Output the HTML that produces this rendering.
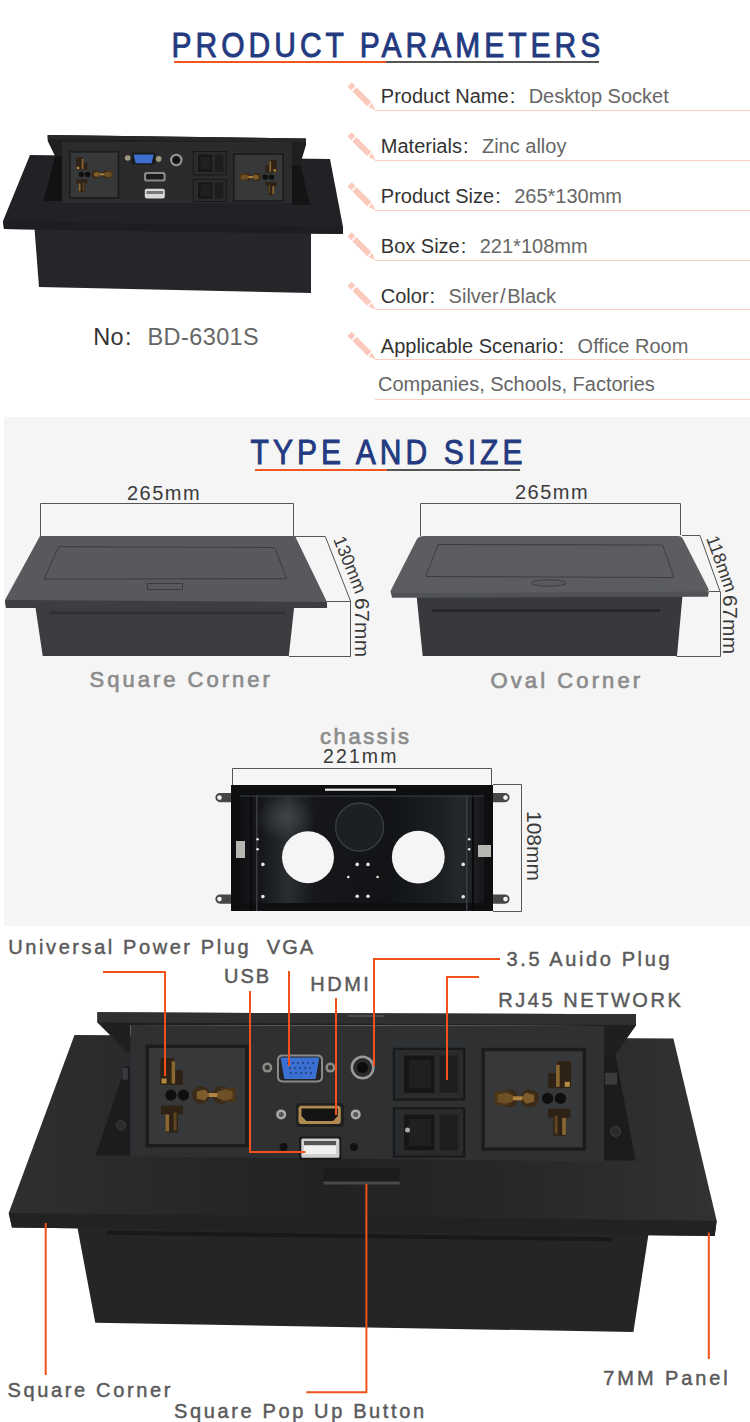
<!DOCTYPE html>
<html><head><meta charset="utf-8">
<style>
*{margin:0;padding:0;box-sizing:border-box}
html,body{width:750px;height:1422px;overflow:hidden;background:#fff}
body{position:relative;font-family:"Liberation Sans",sans-serif}
.t{position:absolute;white-space:nowrap;line-height:1}
.ttl{font-size:30px;letter-spacing:4px;color:#233a80;-webkit-text-stroke:0.8px #233a80;transform-origin:0 0;transform:scaleY(1.15)}
.row{font-size:20px;color:#333}
.row .v{color:#666}
.row .c{display:inline-block;width:20px;padding-left:1px}
.lbl{font-size:20px;letter-spacing:2.5px;color:#5a5a5a;-webkit-text-stroke:0.45px #5a5a5a}
.gry{font-size:22px;letter-spacing:2.75px;color:#8c8c8c;-webkit-text-stroke:0.7px #8c8c8c}
.dim{font-size:20px;color:#3a3a3a;letter-spacing:1.5px}
.rot{position:absolute;left:0;top:0;white-space:nowrap;line-height:1;font-size:20px;color:#3a3a3a;transform-origin:0 0}
svg{position:absolute;left:0;top:0}
</style></head><body>
<div style="position:absolute;left:4px;top:417px;width:746px;height:509px;background:#f5f5f5"></div>
<svg width="750" height="1422" viewBox="0 0 750 1422">
<!-- title underlines -->
<rect x="174" y="61" width="212" height="2" fill="#f0561f"/>
<rect x="386" y="61" width="213" height="2" fill="#555"/>
<rect x="255" y="469" width="132" height="2" fill="#f0561f"/>
<rect x="387" y="469" width="133" height="2" fill="#555"/>
<!-- param underlines -->
<g fill="#f9cdc0">
<rect x="375" y="110" width="375" height="1"/>
<rect x="375" y="160" width="375" height="1"/>
<rect x="375" y="210" width="375" height="1"/>
<rect x="375" y="260" width="375" height="1"/>
<rect x="375" y="309" width="375" height="1"/>
<rect x="375" y="359" width="375" height="1"/>
<rect x="375" y="399" width="375" height="1"/>
</g>
<!-- pencils -->

<g transform="translate(375.2,110) rotate(45)" fill="#fbcabd">
<path d="M0,0 L-6.8,-2.7 L-6.8,2.7 Z"/>
<rect x="-29.3" y="-3" width="21" height="6"/>
<rect x="-36.3" y="-3" width="5.4" height="6" rx="0.8"/>
</g>
<g transform="translate(375.2,160) rotate(45)" fill="#fbcabd">
<path d="M0,0 L-6.8,-2.7 L-6.8,2.7 Z"/>
<rect x="-29.3" y="-3" width="21" height="6"/>
<rect x="-36.3" y="-3" width="5.4" height="6" rx="0.8"/>
</g>
<g transform="translate(375.2,210) rotate(45)" fill="#fbcabd">
<path d="M0,0 L-6.8,-2.7 L-6.8,2.7 Z"/>
<rect x="-29.3" y="-3" width="21" height="6"/>
<rect x="-36.3" y="-3" width="5.4" height="6" rx="0.8"/>
</g>
<g transform="translate(375.2,260) rotate(45)" fill="#fbcabd">
<path d="M0,0 L-6.8,-2.7 L-6.8,2.7 Z"/>
<rect x="-29.3" y="-3" width="21" height="6"/>
<rect x="-36.3" y="-3" width="5.4" height="6" rx="0.8"/>
</g>
<g transform="translate(375.2,309.5) rotate(45)" fill="#fbcabd">
<path d="M0,0 L-6.8,-2.7 L-6.8,2.7 Z"/>
<rect x="-29.3" y="-3" width="21" height="6"/>
<rect x="-36.3" y="-3" width="5.4" height="6" rx="0.8"/>
</g>
<g transform="translate(375.2,359.5) rotate(45)" fill="#fbcabd">
<path d="M0,0 L-6.8,-2.7 L-6.8,2.7 Z"/>
<rect x="-29.3" y="-3" width="21" height="6"/>
<rect x="-36.3" y="-3" width="5.4" height="6" rx="0.8"/>
</g>

<!-- TOP PRODUCT -->
<g>
<polygon points="34,222 311,226 311,293 39,287" fill="#26262a"/>
<polygon points="30,155 330,159 343,227 343,234 4,229 3,221" fill="#222226"/>
<polygon points="3,221 343,227 343,234 4,229" fill="#1e1e22"/>
<polygon points="55,156 62,156 62,201 43.5,201" fill="#121212"/>
<polygon points="292,163 300,163 310,205 292,205" fill="#141414"/>
<polygon points="47.7,135 306,138.5 306,145 300,165 292,165 292,143 62,142 62,156 55,156 47.7,141" fill="#1f1f1f"/>
<polygon points="47.7,135 306,138.5 306,142 47.7,139" fill="#282828"/>
<rect x="62" y="142" width="230" height="61" fill="#2b2b2d"/>
<g transform="translate(69,151) scale(0.488,0.463)">
<rect x="0" y="0" width="103" height="103" fill="#1b1c1d"/>
<rect x="3.5" y="3.5" width="96" height="96" fill="#363839"/>
<path d="M14.8,13.5 h14 v12 h8.5 v15 h-22.5 z" fill="#2e2216"/>
<rect x="26" y="17" width="3.5" height="22" fill="#8a6830"/>
<rect x="16" y="34" width="5" height="5" fill="#b48a40"/>
<path d="M15.4,61 h22 v9 h-5 v18 h-12 v-18 h-5 z" fill="#2e2216"/>
<rect x="20" y="70" width="3.5" height="17" fill="#8a6830"/>
<rect x="28" y="68" width="3" height="18" fill="#5e4420"/>
<circle cx="25.3" cy="50.6" r="5.6" fill="#0f0f10"/><circle cx="37.9" cy="50.6" r="5.6" fill="#0f0f10"/>
<circle cx="55.4" cy="50.5" r="9" fill="#3a2a17"/><circle cx="75.7" cy="50.5" r="9" fill="#3a2a17"/>
<rect x="75" y="43.5" width="15" height="14" fill="#4a3519"/>
<path d="M51,47 L59,45 L64,50 L59,56 L51,54 Z" fill="#7d5c2b"/>
<path d="M72,47 L80,45 L87,47 L87,54 L80,56 L72,54 Z" fill="#6e5026"/>
<rect x="63" y="48.5" width="9" height="4" fill="#b08540"/>
</g>
<g transform="translate(284,153.3) scale(-0.496,0.471)">
<rect x="0" y="0" width="103" height="103" fill="#1b1c1d"/>
<rect x="3.5" y="3.5" width="96" height="96" fill="#363839"/>
<path d="M14.8,13.5 h14 v12 h8.5 v15 h-22.5 z" fill="#2e2216"/>
<rect x="26" y="17" width="3.5" height="22" fill="#8a6830"/>
<rect x="16" y="34" width="5" height="5" fill="#b48a40"/>
<path d="M15.4,61 h22 v9 h-5 v18 h-12 v-18 h-5 z" fill="#2e2216"/>
<rect x="20" y="70" width="3.5" height="17" fill="#8a6830"/>
<rect x="28" y="68" width="3" height="18" fill="#5e4420"/>
<circle cx="25.3" cy="50.6" r="5.6" fill="#0f0f10"/><circle cx="37.9" cy="50.6" r="5.6" fill="#0f0f10"/>
<circle cx="55.4" cy="50.5" r="9" fill="#3a2a17"/><circle cx="75.7" cy="50.5" r="9" fill="#3a2a17"/>
<rect x="75" y="43.5" width="15" height="14" fill="#4a3519"/>
<path d="M51,47 L59,45 L64,50 L59,56 L51,54 Z" fill="#7d5c2b"/>
<path d="M72,47 L80,45 L87,47 L87,54 L80,56 L72,54 Z" fill="#6e5026"/>
<rect x="63" y="48.5" width="9" height="4" fill="#b08540"/>
</g>
<g transform="translate(192.8,151) scale(0.468,0.462)">
<rect x="0" y="0" width="72.6" height="52.8" fill="#18191a"/>
<rect x="2.2" y="2.2" width="68.2" height="48.4" fill="#2a2b2c"/>
<rect x="11.4" y="7.8" width="30" height="37.2" fill="#161616"/>
<rect x="16.2" y="12.2" width="22" height="28" fill="#202020"/>
<rect x="46.8" y="7.8" width="18.6" height="37.2" fill="#1e1e1e"/>
</g>
<g transform="translate(192.8,179) scale(0.468,0.436)">
<rect x="0" y="0" width="72.6" height="52.8" fill="#18191a"/>
<rect x="2.2" y="2.2" width="68.2" height="48.4" fill="#2a2b2c"/>
<rect x="11.4" y="7.8" width="30" height="37.2" fill="#161616"/>
<rect x="16.2" y="12.2" width="22" height="28" fill="#202020"/>
<rect x="46.8" y="7.8" width="18.6" height="37.2" fill="#1e1e1e"/>
</g>
<rect x="131.5" y="152.5" width="24" height="12" rx="2" fill="#1a1a1a"/>
<path d="M133.6,154.4 L153.6,154.4 L151.6,163.2 L135.6,163.2 Z" fill="#3c6fd0"/>
<circle cx="127.7" cy="158" r="2.8" fill="#a09880"/>
<circle cx="158.7" cy="158.9" r="2.8" fill="#a09880"/>
<circle cx="176.3" cy="160" r="6.2" fill="#9a9a9a"/><circle cx="176.3" cy="160" r="4.3" fill="#222"/><circle cx="176.3" cy="160" r="2.5" fill="#0a0a0a"/>
<rect x="144" y="172" width="21.6" height="9.6" rx="2.5" fill="#8a8a8a"/>
<rect x="146" y="174" width="17.6" height="5.6" rx="1.5" fill="#1a1a1a"/>
<rect x="144.8" y="188.8" width="20" height="9.6" rx="2" fill="#d8d8d8"/>
<rect x="146.5" y="191" width="16.6" height="3" fill="#777"/>
</g>
<!-- SECTION 2: SQUARE BOX -->
<g>
<polygon points="34.7,602 294.7,602 288.8,656 42.7,656" fill="#3b3c3f"/>
<polygon points="40,536 295,536 327,602 327,608 6,608 5,600" fill="#58595c"/>
<polygon points="5,600 327,602 327,608 6,608" fill="#3d3e41"/>
<polygon points="50,611.5 285,611.5 285,614 50,614" fill="#2e2f32"/>
<polygon points="58.7,546.7 274.7,547.5 286.7,578.7 44,579" fill="#57595c" stroke="#3b3c3f" stroke-width="1"/>
<rect x="147.5" y="583.5" width="35" height="6" fill="none" stroke="#3b3c3f" stroke-width="1"/>
</g>
<g stroke="#555" stroke-width="1" fill="none">
<path d="M40.5,536 V503.5 H293.5 V536"/>
<path d="M295,536.5 H325.3 L350.7,601.5 H327"/>
<path d="M350.5,601.5 V656.5 H289"/>
</g>
<!-- OVAL BOX -->
<g>
<polygon points="416,590 683,590 677,656 422.7,656" fill="#38393d"/>
<path d="M424,536 L678,536 Q681.6,536 683,539 L708,588 Q710,592 705,592.5 L708,596.5 L392,597.5 L395,594 Q389,594 391,590 L417,539 Q419,536 424,536 Z" fill="#5b5d61"/>
<polygon points="391,593 709,591.5 708,596.5 392,597.5" fill="#505256"/>
<polygon points="432,609 660,609 660,612 432,612" fill="#26272a"/>
<polygon points="438,544.5 662.6,545 674,577.5 425.9,576.5" fill="#5b5d61" stroke="#3d3e42" stroke-width="1"/>
<ellipse cx="549" cy="583" rx="17.5" ry="3.3" fill="#57595d" stroke="#3d3e42" stroke-width="1"/>
</g>
<g stroke="#555" stroke-width="1" fill="none">
<path d="M420.5,536 V503.5 H680.5 V535"/>
<path d="M682,535.5 H700 L720,591.5 H709"/>
<path d="M720.5,591.5 V656.5 H676.5"/>
</g>
<!-- CHASSIS -->
<defs>
<linearGradient id="chg" x1="0" y1="0" x2="1" y2="0">
<stop offset="0" stop-color="#0e0f11"/><stop offset="0.12" stop-color="#16181b"/><stop offset="0.22" stop-color="#2a2d31"/><stop offset="0.32" stop-color="#15171a"/>
<stop offset="0.6" stop-color="#111315"/><stop offset="0.8" stop-color="#1c1f22"/><stop offset="0.88" stop-color="#26292c"/><stop offset="1" stop-color="#0e0f11"/>
</linearGradient>
<radialGradient id="chgl" cx="0.5" cy="0.5" r="0.5"><stop offset="0" stop-color="#4a4d52" stop-opacity="0.7"/><stop offset="1" stop-color="#4a4d52" stop-opacity="0"/></radialGradient>
</defs>
<g>
<g fill="#444648">
<path d="M232,793 H220 A4.6,4.6 0 0 0 220,802.2 H232 Z"/>
<path d="M232,894.5 H220 A4.6,4.6 0 0 0 220,903.7 H232 Z"/>
<path d="M492,793 H505 A4.6,4.6 0 0 1 505,802.2 H492 Z"/>
<path d="M492,894.5 H505 A4.6,4.6 0 0 1 505,903.7 H492 Z"/>
</g>
<g fill="#f5f5f5"><circle cx="219.5" cy="797.6" r="2.3"/><circle cx="219.5" cy="899.1" r="2.3"/><circle cx="505.5" cy="797.6" r="2.3"/><circle cx="505.5" cy="899.1" r="2.3"/></g>
<rect x="231" y="785" width="262" height="126" fill="url(#chg)"/>
<rect x="231" y="785" width="262" height="10" fill="#0e0f11"/>
<rect x="231" y="903" width="262" height="8" fill="#0e0f11"/>
<rect x="231" y="785" width="9" height="126" fill="#0d0e10"/>
<rect x="484" y="785" width="9" height="126" fill="#0d0e10"/>
<rect x="250" y="795" width="2" height="116" fill="#0a0a0b"/>
<rect x="256" y="795" width="1.5" height="116" fill="#3a3c40"/>
<rect x="466" y="795" width="1.5" height="116" fill="#3a3c40"/>
<rect x="472" y="795" width="2" height="116" fill="#0a0a0b"/>
<rect x="325" y="788.6" width="71" height="2.2" fill="#e6e6e6"/>
<rect x="240" y="795.5" width="244" height="1.2" fill="#34373b"/>
<ellipse cx="285" cy="818" rx="30" ry="22" fill="url(#chgl)"/>
<circle cx="308" cy="857.2" r="26" fill="#f5f5f5"/>
<circle cx="418.3" cy="857.2" r="26.4" fill="#f5f5f5"/>
<circle cx="359.6" cy="827" r="24" fill="#1d2023" stroke="#3b3e42" stroke-width="1.3"/>
<rect x="236" y="841" width="9" height="17" fill="#b8b6b0"/>
<rect x="478" y="845" width="13" height="12" fill="#b8b6b0"/>
<g fill="#e8e8e8">
<circle cx="357.2" cy="864.4" r="1.8"/><circle cx="368" cy="864.4" r="1.8"/>
<circle cx="357.2" cy="896.3" r="1.8"/><circle cx="368" cy="896.3" r="1.8"/>
<circle cx="348.3" cy="877" r="1.3"/><circle cx="377.6" cy="877" r="1.3"/>
<circle cx="262.9" cy="864.4" r="1.8"/><circle cx="262.9" cy="896.6" r="1.8"/>
<circle cx="463.2" cy="864.4" r="1.8"/><circle cx="463.2" cy="896.8" r="1.8"/>
<circle cx="257.6" cy="839.2" r="1.3"/><circle cx="257.6" cy="849.3" r="1.3"/>
<circle cx="469.2" cy="839.2" r="1.3"/><circle cx="469.2" cy="849.3" r="1.3"/>
</g>
</g>
<g stroke="#555" stroke-width="1" fill="none">
<path d="M232.5,785 V768.5 H491.5 V785"/>
<path d="M493,784.5 H521.5 V911.5 H493"/>
</g>
<!-- MAIN PRODUCT -->

<g>
<polygon points="76,1220 649.9,1225 633.4,1332 95.3,1322.8" fill="#242527"/>
<defs><linearGradient id="flg" x1="8" y1="0" x2="717" y2="0" gradientUnits="userSpaceOnUse">
<stop offset="0" stop-color="#2e2f30"/><stop offset="0.2" stop-color="#28292a"/><stop offset="0.45" stop-color="#212223"/><stop offset="0.7" stop-color="#262728"/><stop offset="1" stop-color="#313232"/></linearGradient></defs>
<polygon points="74.5,1035 673.4,1038.5 716.7,1220.7 714.7,1236 12,1227.6 8.7,1213" fill="url(#flg)"/>
<polygon points="8.7,1213 716.7,1220.7 714.7,1236 12,1227.6" fill="#212222"/>
<path d="M107,1232.8 L612,1239.2" stroke="#18191a" stroke-width="4"/>
<!-- recesses -->
<polygon points="125.5,1066 130,1066 130,1155.5 95.7,1155.5" fill="#1b1c1d"/>
<polygon points="604,1050 614.5,1050 618.7,1072 635.6,1160.5 604,1160.5" fill="#1b1c1d"/>
<rect x="122.7" y="1068" width="5" height="11.7" fill="#3a3b3e"/>
<rect x="605.2" y="1072.8" width="11.8" height="11.8" fill="#3a3c3e"/>
<circle cx="121" cy="1125.3" r="4.5" fill="#2a2b2c" stroke="#3e3f40" stroke-width="1"/>
<circle cx="615.7" cy="1131.4" r="5" fill="#2a2b2c" stroke="#3e3f40" stroke-width="1"/>
<!-- lid -->
<polygon points="97.4,1012.3 636,1014.3 636,1025.5 615.2,1055 604,1055 604,1026 130.4,1025 130.4,1052.7 127.7,1052.7 97.4,1022.4" fill="#1e1f20"/>
<polygon points="97.4,1012.3 636,1014.3 636,1025 97.4,1022.6" fill="#2e3032"/>
<rect x="348" y="1015" width="36" height="2" fill="#4a4c4e"/>
<!-- panel face -->
<polygon points="130.4,1025 604,1026 604,1161.5 130.4,1156.5" fill="#2e3032"/>
<g transform="translate(145.6,1044.5)">
<rect x="0" y="0" width="103" height="103" fill="#1b1c1d"/>
<rect x="3.5" y="3.5" width="96" height="96" fill="#363839"/>
<path d="M14.8,13.5 h14 v12 h8.5 v15 h-22.5 z" fill="#2e2216"/>
<rect x="26" y="17" width="3.5" height="22" fill="#8a6830"/>
<rect x="16" y="34" width="5" height="5" fill="#b48a40"/>
<path d="M15.4,61 h22 v9 h-5 v18 h-12 v-18 h-5 z" fill="#2e2216"/>
<rect x="20" y="70" width="3.5" height="17" fill="#8a6830"/>
<rect x="28" y="68" width="3" height="18" fill="#5e4420"/>
<circle cx="25.3" cy="50.6" r="5.6" fill="#0f0f10"/><circle cx="37.9" cy="50.6" r="5.6" fill="#0f0f10"/>
<circle cx="55.4" cy="50.5" r="9" fill="#3a2a17"/><circle cx="75.7" cy="50.5" r="9" fill="#3a2a17"/>
<rect x="75" y="43.5" width="15" height="14" fill="#4a3519"/>
<path d="M51,47 L59,45 L64,50 L59,56 L51,54 Z" fill="#7d5c2b"/>
<path d="M72,47 L80,45 L87,47 L87,54 L80,56 L72,54 Z" fill="#6e5026"/>
<rect x="63" y="48.5" width="9" height="4" fill="#b08540"/>
</g>
<g transform="translate(586.1,1047.8) scale(-1.017,1)">
<rect x="0" y="0" width="103" height="103" fill="#1b1c1d"/>
<rect x="3.5" y="3.5" width="96" height="96" fill="#363839"/>
<path d="M14.8,13.5 h14 v12 h8.5 v15 h-22.5 z" fill="#2e2216"/>
<rect x="26" y="17" width="3.5" height="22" fill="#8a6830"/>
<rect x="16" y="34" width="5" height="5" fill="#b48a40"/>
<path d="M15.4,61 h22 v9 h-5 v18 h-12 v-18 h-5 z" fill="#2e2216"/>
<rect x="20" y="70" width="3.5" height="17" fill="#8a6830"/>
<rect x="28" y="68" width="3" height="18" fill="#5e4420"/>
<circle cx="25.3" cy="50.6" r="5.6" fill="#0f0f10"/><circle cx="37.9" cy="50.6" r="5.6" fill="#0f0f10"/>
<circle cx="55.4" cy="50.5" r="9" fill="#3a2a17"/><circle cx="75.7" cy="50.5" r="9" fill="#3a2a17"/>
<rect x="75" y="43.5" width="15" height="14" fill="#4a3519"/>
<path d="M51,47 L59,45 L64,50 L59,56 L51,54 Z" fill="#7d5c2b"/>
<path d="M72,47 L80,45 L87,47 L87,54 L80,56 L72,54 Z" fill="#6e5026"/>
<rect x="63" y="48.5" width="9" height="4" fill="#b08540"/>
</g>
<!-- RJ45 -->
<g transform="translate(392.8,1047.8)">
<rect x="0" y="0" width="72.6" height="52.8" fill="#18191a"/>
<rect x="2.2" y="2.2" width="68.2" height="48.4" fill="#2a2b2c"/>
<rect x="11.4" y="7.8" width="30" height="37.2" fill="#161616"/>
<rect x="16.2" y="12.2" width="22" height="28" fill="#202020"/>
<rect x="46.8" y="7.8" width="18.6" height="37.2" fill="#1e1e1e"/>
</g>
<g transform="translate(392.8,1107.2) scale(1,0.955)">
<rect x="0" y="0" width="72.6" height="52.8" fill="#18191a"/>
<rect x="2.2" y="2.2" width="68.2" height="48.4" fill="#2a2b2c"/>
<rect x="11.4" y="7.8" width="30" height="37.2" fill="#161616"/>
<rect x="16.2" y="12.2" width="22" height="28" fill="#202020"/>
<rect x="46.8" y="7.8" width="18.6" height="37.2" fill="#1e1e1e"/>
</g>
<circle cx="407.5" cy="1130" r="2.5" fill="#aaa"/>
<!-- VGA -->
<rect x="277" y="1054.5" width="46" height="28" rx="5" fill="#8a8a86"/>
<rect x="279" y="1056.5" width="42" height="24" rx="4" fill="#242424"/>
<path d="M280.5,1057.5 L319.3,1057.5 L315.5,1079 L284.3,1079 Z" fill="#3b6fd2"/>
<g fill="#1c3c80">
<circle cx="288" cy="1063" r="1"/><circle cx="293" cy="1063" r="1"/><circle cx="298" cy="1063" r="1"/><circle cx="303" cy="1063" r="1"/><circle cx="308" cy="1063" r="1"/><circle cx="313" cy="1063" r="1"/>
<circle cx="290" cy="1068" r="1"/><circle cx="295" cy="1068" r="1"/><circle cx="300" cy="1068" r="1"/><circle cx="305" cy="1068" r="1"/><circle cx="310" cy="1068" r="1"/>
<circle cx="291" cy="1073" r="1"/><circle cx="296" cy="1073" r="1"/><circle cx="301" cy="1073" r="1"/><circle cx="306" cy="1073" r="1"/><circle cx="311" cy="1073" r="1"/>
</g>
<g>
<circle cx="267.3" cy="1067.6" r="5" fill="#8c8a84"/><circle cx="267.3" cy="1067.6" r="2.5" fill="#333"/>
<circle cx="330.4" cy="1067.6" r="5" fill="#8c8a84"/><circle cx="330.4" cy="1067.6" r="2.5" fill="#333"/>
<circle cx="362.6" cy="1067.6" r="12" fill="#9a9a9a"/><circle cx="362.6" cy="1067.6" r="9.5" fill="#2a2a2a"/><circle cx="362.6" cy="1067.6" r="5.5" fill="#0c0c0c"/>
</g>
<!-- HDMI -->
<rect x="296" y="1103" width="48" height="24" rx="4" fill="#202020"/>
<rect x="298.5" y="1105.7" width="42.3" height="18.3" rx="3" fill="#b08a50"/>
<path d="M301.5,1108.5 L337.8,1108.5 L337.8,1116 L333,1121 L306.3,1121 L301.5,1116 Z" fill="#141414"/>
<circle cx="281.2" cy="1114.4" r="5" fill="#aaa"/><circle cx="281.2" cy="1114.4" r="2.5" fill="#555"/>
<circle cx="355.7" cy="1114.4" r="5" fill="#aaa"/><circle cx="355.7" cy="1114.4" r="2.5" fill="#555"/>
<!-- USB -->
<rect x="299" y="1136.5" width="42.5" height="23.5" rx="2" fill="#1a1a1a"/>
<rect x="301.3" y="1138.6" width="38.1" height="19.1" rx="1.5" fill="#d0d0d0"/>
<rect x="304" y="1146" width="32" height="8" fill="#f0f0f0"/>
<rect x="304" y="1141" width="32" height="4" fill="#555"/>
<circle cx="283.5" cy="1147" r="4" fill="#111"/><circle cx="354" cy="1147" r="4" fill="#111"/>
<!-- popup button -->
<rect x="323.5" y="1168" width="76.2" height="16.4" fill="#1c1c1c"/>
<rect x="323.5" y="1181.5" width="76.2" height="3" fill="#4a4a4a"/>
</g>
<!-- ORANGE CALLOUT LINES -->
<g stroke="#f1511a" stroke-width="2" fill="none">
<path d="M103,972 H165 V1076"/>
<path d="M250,991 V1152 H305.5"/>
<path d="M289,971 V1066"/>
<path d="M336,998 V1115"/>
<path d="M500,959 H374 V1066"/>
<path d="M479,977 H447 V1080"/>
<path d="M45.7,1223 V1375"/>
<path d="M366.4,1184 V1392.3 H306.3"/>
<path d="M708.8,1232.6 V1359"/>
</g>
</svg>

<!-- TEXT -->
<div class="t ttl" style="left:171.6px;top:27.6px">PRODUCT PARAMETERS</div>
<div class="t row" style="left:380.8px;top:85.8px">Product Name<span class="c">:</span><span class="v">Desktop Socket</span></div>
<div class="t row" style="left:380.8px;top:135.8px">Materials<span class="c">:</span><span class="v">Zinc alloy</span></div>
<div class="t row" style="left:380.8px;top:185.8px">Product Size<span class="c">:</span><span class="v">265*130mm</span></div>
<div class="t row" style="left:380.8px;top:235.8px">Box Size<span class="c">:</span><span class="v">221*108mm</span></div>
<div class="t row" style="left:380.8px;top:285.8px">Color<span class="c">:</span><span class="v">Silver<span style="padding:0 1.5px">/</span>Black</span></div>
<div class="t row" style="left:380.8px;top:335.8px">Applicable Scenario<span class="c">:</span><span class="v">Office Room</span></div>
<div class="t row" style="left:378px;top:373.8px"><span class="v">Companies, Schools, Factories</span></div>
<div class="t row" style="left:93.2px;top:326px;font-size:23.5px;letter-spacing:0.4px">No<span class="c" style="width:23.5px">:</span><span class="v">BD-6301S</span></div>

<div class="t ttl" style="left:250.5px;top:435px;letter-spacing:4.05px">TYPE AND SIZE</div>

<div class="t dim" style="left:127px;top:482.6px">265mm</div>
<div class="t dim" style="left:515px;top:481.6px">265mm</div>
<div class="t gry" style="left:89.5px;top:669.4px;letter-spacing:3px">Square Corner</div>
<div class="t gry" style="left:490.5px;top:669.6px;letter-spacing:3.1px">Oval Corner</div>
<div class="t gry" style="left:320px;top:725.6px;letter-spacing:2.6px">chassis</div>
<div class="t dim" style="left:323px;top:746.6px;font-size:19.5px;letter-spacing:2.1px">221mm</div>

<div class="rot" style="transform:translate(346.8px,533.6px) rotate(67.6deg);font-size:18px">130mm</div>
<div class="rot" style="transform:translate(372.6px,598px) rotate(90deg);font-size:21px;letter-spacing:0.3px">67mm</div>
<div class="rot" style="transform:translate(720.2px,533.1px) rotate(70.4deg);font-size:18px">118mm</div>
<div class="rot" style="transform:translate(741px,595px) rotate(90deg);font-size:21px;letter-spacing:0.3px">67mm</div>
<div class="rot" style="transform:translate(544.5px,811px) rotate(90deg);font-size:21px">108mm</div>

<div class="t lbl" style="left:8.3px;top:937px;letter-spacing:2.58px">Universal Power Plug</div>
<div class="t lbl" style="left:266.8px;top:936.8px;letter-spacing:2px">VGA</div>
<div class="t lbl" style="left:224px;top:966px;letter-spacing:2px">USB</div>
<div class="t lbl" style="left:310.3px;top:973.8px;letter-spacing:2.5px">HDMI</div>
<div class="t lbl" style="left:506.5px;top:948.6px;letter-spacing:2.62px">3.5 Auido Plug</div>
<div class="t lbl" style="left:498.3px;top:989.5px;letter-spacing:2.55px">RJ45 NETWORK</div>
<div class="t lbl" style="left:7.5px;top:1380px;letter-spacing:2.65px">Square Corner</div>
<div class="t lbl" style="left:174px;top:1400.8px;letter-spacing:2.63px">Square Pop Up Button</div>
<div class="t lbl" style="left:603.3px;top:1368.2px;letter-spacing:2.9px">7MM Panel</div>
</body></html>
